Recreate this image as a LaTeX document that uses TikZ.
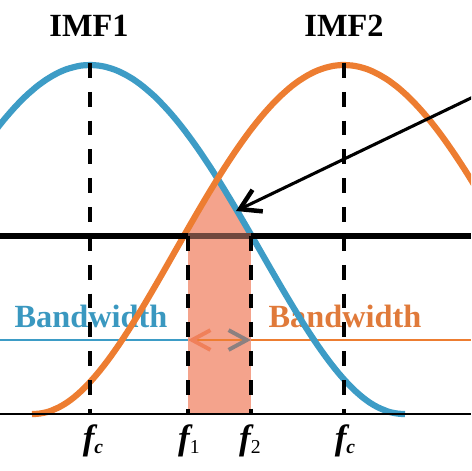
\documentclass[tikz,border=0pt]{standalone}
\usepackage{fontspec}
\setmainfont{Liberation Serif}
\usetikzlibrary{arrows.meta}
\definecolor{imfblue}{RGB}{61,156,198}
\definecolor{imforange}{RGB}{237,125,49}
\definecolor{txtblue}{RGB}{58,152,192}
\definecolor{txtorange}{RGB}{224,122,58}
\definecolor{overlap}{RGB}{244,163,140}
\definecolor{overlapline}{RGB}{112,72,62}
\definecolor{headorange}{RGB}{240,128,90}
\definecolor{headgray}{RGB}{140,128,128}
\newcommand{\flow}[1]{\raisebox{-0.3ex}{\fontsize{14}{16}\selectfont #1}}

\begin{document}
\begin{tikzpicture}[x=0.025cm,y=-0.025cm,
    declare function={bump(\u)=349*(max(1-(\u)*(\u),0.0001))^2.2;},
    curve/.style={line width=4.4pt},
    vdash/.style={black,line width=2.5pt,dash pattern=on 10.5pt off 10pt},
    thin/.style={line width=1.5pt},
    title/.style={font=\fontsize{23}{28}\selectfont\bfseries,anchor=base},
    flbl/.style={font=\fontsize{25}{30}\selectfont\bfseries\itshape,anchor=base}]
  \useasboundingbox (0,0) rectangle (471,471);
  \clip (0,0) rectangle (471,471);

  % key points
  \coordinate (fcA) at (90,63);
  \coordinate (fcB) at (344,63);
  \coordinate (fA) at (188,236);
  \coordinate (fB) at (251,236);
  \coordinate (bwL) at (188,340);
  \coordinate (bwR) at (251,340);

  % bandwidth lines
  \draw[imfblue,thin] (0,340) -- (bwL);
  \draw[imforange,thin] (bwR) -- (471,340);

  % overlap band
  \begin{scope}
    \clip (-10,414) -- plot[domain=-10:405,samples=120] (\x,{414-bump((\x-90)/315)}) -- cycle;
    \clip (32,414) -- plot[domain=32:480,samples=120] (\x,{414-bump((\x-344)/312)}) -- (480,414) -- cycle;
    \fill[overlap] (188,150) rectangle (251,414);
  \end{scope}

  % labels
  \node[title] (imf1) at (89,37) {IMF1};
  \node[title] (imf2) at (344,37) {IMF2};
  \node[title,txtblue] (bw1) at (91,327) {Bandwidth};
  \node[title,txtorange] (bw2) at (345,327) {Bandwidth};

  % IMF curves
  \draw[imfblue,curve] plot[domain=-10:405,samples=120] (\x,{414-bump((\x-90)/315)});
  \draw[imforange,curve] plot[domain=32:480,samples=120] (\x,{414-bump((\x-344)/312)});

  % axis and threshold
  \draw[line width=1.8pt] (0,414) -- (471,414);
  \draw[line width=3.8pt] (0,236) -- (471,236);
  \draw[overlapline,line width=3.8pt] (fA) -- (fB);

  % dashed markers
  \draw[vdash] (fcA) -- (90,414);
  \draw[vdash] (fcB) -- (344,414);
  \draw[vdash] (fA) -- (188,414);
  \draw[vdash] (fB) -- (251,414);

  % bandwidth arrow
  \draw[imforange,thin,{Straight Barb[color=headorange,length=13pt,width=14pt,line width=2.8pt]}-{Straight Barb[color=headgray,length=13pt,width=14pt,line width=2.8pt]}] (bwL) -- (bwR);

  % pointer to the overlap
  \coordinate (arrS) at (480,93.7);
  \coordinate (arrT) at (236,211);
  \draw[line width=2.2pt,-{Straight Barb[length=14pt,width=17pt,line width=3.2pt]}] (arrS) -- (arrT);

  % frequency labels
  \node[flbl] (lfc1) at (93,449) {f\flow{c}};
  \node[flbl] (lf1) at (189,449) {f\flow{\normalfont 1}};
  \node[flbl] (lf2) at (250,449) {f\flow{\normalfont 2}};
  \node[flbl] (lfc2) at (345,449) {f\flow{c}};
\end{tikzpicture}
\end{document}
